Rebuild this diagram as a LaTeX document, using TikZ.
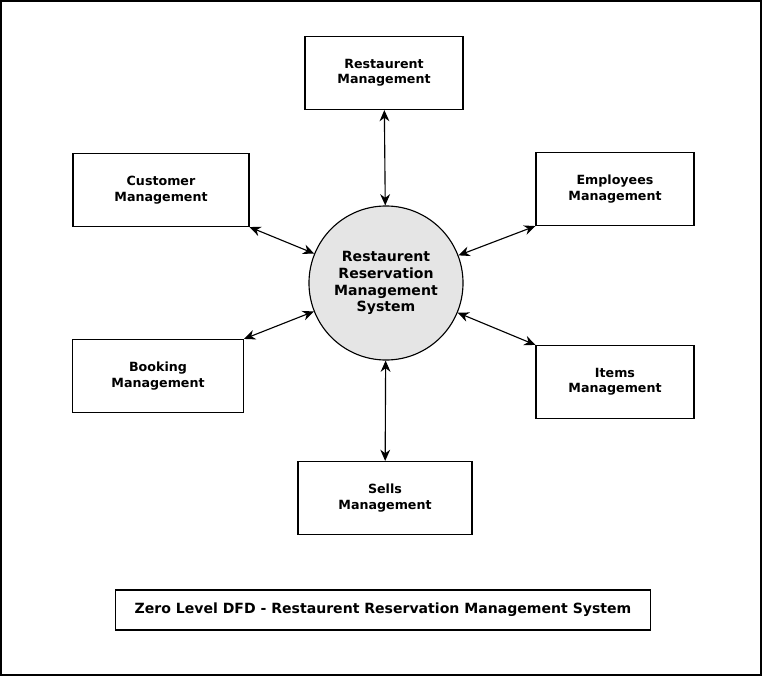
\documentclass[tikz,border=0pt]{standalone}
\usepackage{fontspec}
\setmainfont{DejaVu Sans}
\usetikzlibrary{arrows.meta}
\begin{document}
\begin{tikzpicture}[x=0.025cm, y=-0.025cm,
    entity/.style={draw, thick, minimum width=#1*0.025cm, minimum height=1.825cm, align=center, font=\fontsize{9}{11}\selectfont\bfseries},
    flow/.style={{Stealth[length=8pt, width=7pt]}-{Stealth[length=8pt, width=7pt]}, thick}
]
    \useasboundingbox (0,0) rectangle (764,677);
    \draw[thick] (1,1) rectangle (761,675);

    \node[circle, draw, thick, fill=gray!20, minimum size=3.85cm, align=center, font=\fontsize{10}{12}\selectfont\bfseries] (sys) at (386,283) {Restaurent\\Reservation\\Management\\System};

    \node[entity=158] (rest) at (384,73) {Restaurent\\Management};
    \node[entity=176] (cust) at (161,190) {Customer\\Management};
    \node[entity=158] (emp) at (615,189) {Employees\\Management};
    \node[entity=171] (book) at (158,376) {Booking\\Management};
    \node[entity=158] (items) at (615,382) {Items\\Management};
    \node[entity=174] (sells) at (385,498) {Sells\\Management};

    % flows
    \draw[flow] (sys) -- (rest);
    \draw[flow] (sys) -- (cust.south east);
    \draw[flow] (sys) -- (emp.south west);
    \draw[flow] (sys) -- (book.north east);
    \draw[flow] (sys) -- (items.north west);
    \draw[flow] (sys) -- (sells);

    \node[draw, thick, minimum width=13.375cm, minimum height=1cm, font=\fontsize{10}{12}\selectfont\bfseries] (title) at (383,610) {Zero Level DFD - Restaurent Reservation Management System};
\end{tikzpicture}
\end{document}
